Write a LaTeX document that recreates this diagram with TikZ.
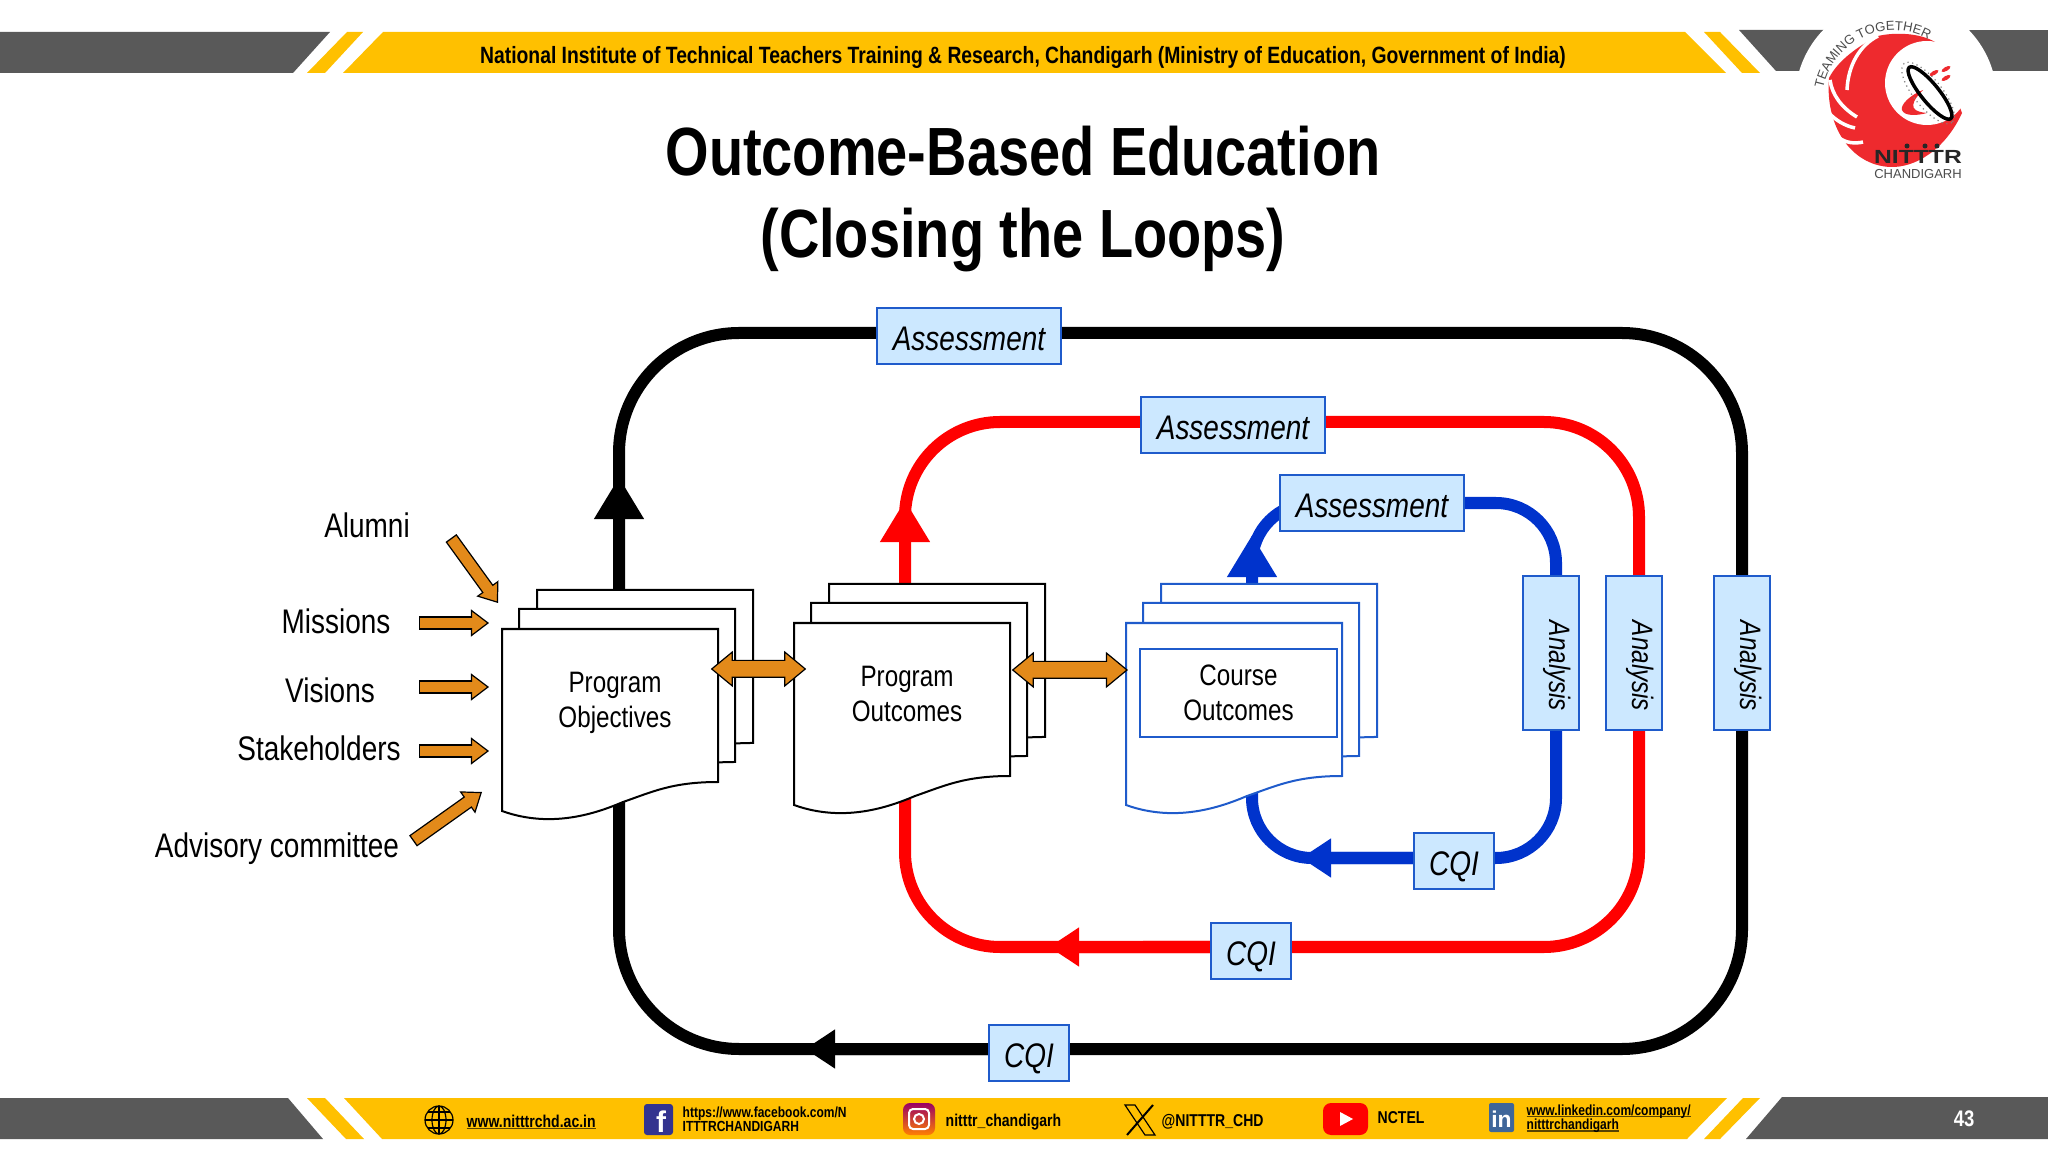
\documentclass[tikz,border=0pt]{standalone}
\usepackage{fontspec}
\setmainfont[FakeStretch=0.82]{Liberation Sans}
\newfontfamily\logofont{Liberation Sans}
\newfontfamily\logowide[FakeStretch=1.3]{Liberation Sans}
\usetikzlibrary{arrows.meta,backgrounds,decorations.text}

\definecolor{barGray}{HTML}{595959}
\definecolor{barGold}{HTML}{FFC000}
\definecolor{boxFill}{HTML}{CCE8FF}
\definecolor{boxEdge}{HTML}{1F5BCB}
\definecolor{loopBlue}{HTML}{0033CC}
\definecolor{arrowFill}{HTML}{E38A1A}
\definecolor{logoRed}{HTML}{EE2A2E}

\tikzset{
  loopline/.style={line width=0.12cm,rounded corners=#1},
  loophead/.style={line width=0.12cm,-{Triangle[length=0.42cm,width=0.47cm]}},
  loopback/.style={line width=0.12cm,-{Triangle[length=0.30cm,width=0.37cm]}},
  stepbox/.style={draw=boxEdge,fill=boxFill,line width=0.02cm,text height=0.32cm,text depth=0.04cm,font=\fontsize{9.7}{11}\selectfont\itshape,inner sep=0pt},
  assessbox/.style={stepbox,minimum width=1.83cm,minimum height=0.55cm},
  analysisbox/.style={stepbox,rotate=-90,minimum width=1.54cm,minimum height=0.56cm,text height=0.24cm,text depth=0.05cm,font=\fontsize{8.4}{10}\selectfont\itshape},
  cqibox/.style={stepbox,minimum width=0.8cm,minimum height=0.55cm},
  sheet/.style={fill=white,line width=0.02cm},
  doclabel/.style={align=center,text width=2.16cm,inner sep=0pt,font=\fontsize{8.4}{10}\selectfont},
  sidelabel/.style={inner sep=0pt,font=\fontsize{9.7}{11}\selectfont},
  bothways/.style={draw=black,line width=0.18cm,
    {Triangle[length=0.22cm,width=0.36cm,fill=arrowFill,line width=0.012cm]}-{Triangle[length=0.22cm,width=0.36cm,fill=arrowFill,line width=0.012cm]},
    postaction={draw=arrowFill,line width=0.155cm,-,shorten <=0.2cm,shorten >=0.2cm}},
  oneway/.style={draw=black,line width=0.135cm,
    -{Triangle[length=0.18cm,width=0.27cm,fill=arrowFill,line width=0.012cm]},
    postaction={draw=arrowFill,line width=0.108cm,-,shorten <=0.014cm,shorten >=0.16cm}},
  foottext/.style={anchor=west,inner sep=0pt,align=left,font=\fontsize{4.87}{4.1}\selectfont\bfseries\setlength{\lineskiplimit}{-1cm}},
  foottwo/.style={foottext,font=\fontsize{4.17}{4.1}\selectfont\bfseries\setlength{\lineskiplimit}{-1cm}},
}

% one document stack, front sheet top left at #1
\newcommand{\docstack}[2]{
  \foreach \dx/\dy in {0.35/0.39,0.17/0.20,0/0}
    \draw[sheet,#2,shift={(#1)},xshift=\dx cm,yshift=\dy cm]
      (0,0) -- (216,0) -- (216,153) .. controls (170,153) and (150,163) .. (121,173)
      .. controls (95,184) and (50,200) .. (0,182) -- cycle;
}
\newcommand{\analysistext}{\hspace*{0.26cm}\raisebox{0.08cm}{Analysis}}
% link underline, close under the letters
\newcommand{\footlink}[1]{\setbox0=\hbox{#1}\rlap{\textcolor{black!65!barGold}{\rule[-0.5pt]{\wd0}{0.4pt}}}#1}

\begin{document}
\begin{tikzpicture}[x=0.01cm,y=-0.01cm]
  \useasboundingbox (0,0) rectangle (2048,1152);
  % top band
  \fill[barGray] (0,32) -- (330,32) -- (293,73) -- (0,73) -- cycle;
  \fill[barGold] (347,32) -- (363,32) -- (325,73) -- (307,73) -- cycle;
  \fill[barGold] (383,32) -- (1685,32) -- (1726,73) -- (343,73) -- cycle;
  \fill[barGold] (1704,32) -- (1720,32) -- (1760,73) -- (1742,73) -- cycle;
  \fill[barGray] (1739,30) -- (1850,30) -- (1850,71) -- (1776,71) -- cycle;
  \fill[barGray] (1940,30) -- (2048,30) -- (2048,71) -- (1940,71) -- cycle;
  \node[font=\fontsize{6.7}{9}\selectfont\bfseries] (header) at (1023,57)
    {National Institute of Technical Teachers Training \& Research, Chandigarh (Ministry of Education, Government of India)};

  % logo
  \fill[white] (1896,100) circle (101);
  \fill[logoRed] (1962,113) .. controls (1945,150) and (1915,168) .. (1890,167)
    .. controls (1850,165) and (1825,125) .. (1829,78)
    .. controls (1838,60) and (1860,45) .. (1878,36)
    .. controls (1895,32) and (1920,33) .. (1935,42) -- cycle;
  \fill[white] (1927,83) circle (42);
  \draw[white,line width=0.035cm] (1878,36) .. controls (1860,45) and (1848,65) .. (1847,90);
  \draw[white,line width=0.035cm] (1830,80) .. controls (1832,95) and (1842,108) .. (1857,117);
  \draw[white,line width=0.035cm] (1828,112) .. controls (1835,120) and (1845,126) .. (1855,128);
  \draw[white,line width=0.035cm] (1838,137) .. controls (1845,143) and (1855,144) .. (1863,142);
  \fill[logoRed] (1923,90) .. controls (1910,95) and (1900,105) .. (1902,110)
    .. controls (1904,116) and (1916,116) .. (1927,113)
    .. controls (1915,112) and (1905,108) .. (1923,90) -- cycle;
  \draw[black!50,line width=0.012cm,densely dotted,rotate around={-51:(1928,93)}] (1928,93) circle [x radius=38,y radius=14];
  \draw[black,line width=0.035cm,rotate around={-51:(1930,93)}] (1930,93) circle [x radius=33,y radius=9];
  \fill[logoRed,rotate around={30:(1934,73)}] (1934,73) circle [x radius=5,y radius=2];
  \fill[logoRed,rotate around={30:(1946,69)}] (1946,69) circle [x radius=5,y radius=2];
  \fill[logoRed,rotate around={30:(1946,78)}] (1946,78) circle [x radius=5,y radius=2];
  \path[decorate,decoration={text along path,text align=center,
      text={|\logofont\fontsize{3.7}{4}\selectfont\color{black!70}|TEAMING TOGETHER}}]
    (1823,90) arc[start angle=-170,end angle=-60,radius=72];
  \node[font=\logowide\fontsize{5.4}{6}\selectfont\bfseries,text=black!85,inner sep=0pt] (logoname) at (1918,157) {NITTTR};
  \fill[black!85] (1907,146) circle (2.5) (1925,146) circle (2.5) (1937,146) circle (2.5);
  \node[font=\logofont\fontsize{3.7}{4}\selectfont,text=black!70,inner sep=0pt] (logoplace) at (1918,174) {CHANDIGARH};

  % title
  \node[align=center,font=\fontsize{19.4}{23.3}\selectfont\bfseries] (title) at (1023,199)
    {Outcome-Based Education\\(Closing the Loops)};

  % document stacks
  \docstack{502,629}{draw=black}
  \docstack{794,623}{draw=black}
  \docstack{1126,623}{draw=boxEdge}
  \node[doclabel] (pobj) at (615,703) {Program\\Objectives};
  \node[doclabel] (pout) at (907,694) {Program\\Outcomes};
  \node[doclabel,draw=boxEdge,line width=0.02cm,fill=white,text width=1.97cm,minimum height=0.87cm] (cout) at (1238.5,693) {Course\\Outcomes};

  % boxes on the three loops
  \node[assessbox] (asBlack) at (969,336) {Assessment};
  \node[assessbox] (asRed) at (1233,425) {Assessment};
  \node[assessbox] (asBlue) at (1372,503) {Assessment};
  \node[analysisbox] (anBlack) at (1742,653) {\analysistext};
  \node[analysisbox] (anRed) at (1634,653) {\analysistext};
  \node[analysisbox] (anBlue) at (1551,653) {\analysistext};
  \node[cqibox] (cqBlack) at (1029,1053) {CQI};
  \node[cqibox] (cqRed) at (1251,951) {CQI};
  \node[cqibox] (cqBlue) at (1454,861) {CQI};

  \coordinate (objTop) at (619,600);
  \coordinate (objBot) at (619,780);
  \coordinate (outTop) at (905,600);
  \coordinate (outBot) at (905,780);
  \coordinate (couTop) at (1252,600);
  \coordinate (couBot) at (1252,780);
  \coordinate (objTip) at (619,477);
  \coordinate (outTip) at (905,500);
  \coordinate (couTip) at (1252,535);
  \coordinate (blackTip) at (805,1049);
  \coordinate (redTip) at (1049,947);
  \coordinate (blueTip) at (1301,858);

  \begin{scope}[on background layer]
    \draw[loopline=1.2cm] (objTop) |- ([yshift=0.03cm]asBlack.center);
    \draw[loopline=1.2cm] ([yshift=0.03cm]asBlack.center) -| (anBlack.center);
    \draw[loopline=1.2cm] (anBlack.center) |- ([yshift=0.04cm]cqBlack.center);
    \draw[loopline=1.2cm] ([yshift=0.04cm]cqBlack.center) -| (objBot);
    \draw[loophead] (objTop) -- (objTip);
    \draw[loopback] ([yshift=0.04cm]cqBlack.center) -- (blackTip);

    \draw[red,loopline=0.95cm] (outTop) |- ([yshift=0.03cm]asRed.center);
    \draw[red,loopline=0.95cm] ([yshift=0.03cm]asRed.center) -| ([xshift=0.05cm]anRed.center);
    \draw[red,loopline=0.95cm] ([xshift=0.05cm]anRed.center) |- ([yshift=0.04cm]cqRed.center);
    \draw[red,loopline=0.95cm] ([yshift=0.04cm]cqRed.center) -| (outBot);
    \draw[red,loophead] (outTop) -- (outTip);
    \draw[red,loopback] ([yshift=0.04cm]cqRed.center) -- (redTip);

    \draw[loopBlue,loopline=0.6cm] (couTop) |- (asBlue.center);
    \draw[loopBlue,loopline=0.6cm] (asBlue.center) -| ([xshift=0.05cm]anBlue.center);
    \draw[loopBlue,loopline=0.6cm] ([xshift=0.05cm]anBlue.center) |- ([yshift=0.03cm]cqBlue.center);
    \draw[loopBlue,loopline=0.6cm] ([yshift=0.03cm]cqBlue.center) -| (couBot);
    \draw[loopBlue,loophead] (couTop) -- (couTip);
    \draw[loopBlue,loopback] ([yshift=0.03cm]cqBlue.center) -- (blueTip);
  \end{scope}

  % arrows between the stacks
  \draw[bothways] ([shift={(-0.13cm,0.34cm)}]pobj.east) -- ([shift={(0.08cm,0.25cm)}]pout.west);
  \draw[bothways] ([shift={(-0.04cm,0.24cm)}]pout.east) -- ([shift={(-0.11cm,0.23cm)}]cout.west);

  % inputs on the left
  \node[sidelabel] (alumni) at (367,525) {Alumni};
  \node[sidelabel] (missions) at (336,621) {Missions};
  \node[sidelabel] (visions) at (330,690) {Visions};
  \node[sidelabel] (stake) at (319,748) {Stakeholders};
  \node[sidelabel] (advisory) at (277,849) {Advisory committee};
  \coordinate (inAlumni) at (498,603);
  \coordinate (inMissions) at (489,623);
  \coordinate (inVisions) at (489,687);
  \coordinate (inStake) at (489,751);
  \coordinate (inAdvisory) at (482,792);
  \draw[oneway] (451,538) -- (inAlumni);
  \draw[oneway] (419,623) -- (inMissions);
  \draw[oneway] (419,687) -- (inVisions);
  \draw[oneway] (419,751) -- (inStake);
  \draw[oneway] (413,841) -- (inAdvisory);

  % bottom band
  \fill[barGray] (0,1098) -- (288,1098) -- (323,1139) -- (0,1139) -- cycle;
  \fill[barGold] (307,1098) -- (325,1098) -- (364,1139) -- (346,1139) -- cycle;
  \fill[barGold] (344,1098) -- (1727,1098) -- (1687,1139) -- (382,1139) -- cycle;
  \fill[barGold] (1743,1098) -- (1760,1098) -- (1720,1139) -- (1704,1139) -- cycle;
  \fill[barGray] (1782,1097) -- (2048,1097) -- (2048,1139) -- (1746,1139) -- cycle;

  % globe
  \draw[line width=0.012cm] (439,1120) circle (14);
  \draw[line width=0.012cm] (439,1120) circle [x radius=7,y radius=14];
  \draw[line width=0.012cm] (439,1106) -- (439,1134);
  \draw[line width=0.012cm] (425,1120) -- (453,1120);
  \draw[line width=0.012cm] (428,1112) -- (450,1112);
  \draw[line width=0.012cm] (428,1128) -- (450,1128);
  \node[foottext] (site) at (466,1122) {\footlink{www.nitttrchd.ac.in}};
  % facebook
  \fill[blue!45!black!80!white,rounded corners=0.03cm] (644,1104) rectangle (673,1135);
  \node[text=white,inner sep=0pt,font=\logofont\fontsize{8.5}{9}\selectfont\bfseries] (fbmark) at (661,1122) {f};
  \node[foottwo] (fbtext) at (682,1119) {https://www.facebook.com/N\\ITTTRCHANDIGARH};
  % instagram
  \shade[top color=purple!80!blue,bottom color=orange,rounded corners=0.07cm] (903,1103) rectangle (935,1135);
  \draw[white,line width=0.02cm,rounded corners=0.04cm] (909,1109) rectangle (929,1129);
  \draw[white,line width=0.02cm] (919,1119) circle (5);
  \node[foottext] (insta) at (945,1122) {nitttr\_chandigarh};
  % x
  \draw[line width=0.012cm] (1125,1105) -- (1135,1105) -- (1155,1135) -- (1145,1135) -- cycle;
  \draw[line width=0.02cm] (1153,1105) -- (1127,1135);
  \node[foottext] (xtext) at (1161,1122) {@NITTTR\_CHD};
  % youtube
  \fill[red,rounded corners=0.08cm] (1323,1103) rectangle (1368,1135);
  \fill[white] (1340,1112) -- (1353,1119) -- (1340,1126) -- cycle;
  \node[foottext] (yttext) at (1377,1118) {NCTEL};
  % linkedin
  \fill[cyan!50!blue!70!black,rounded corners=0.02cm] (1489,1103) rectangle (1514,1132);
  \node[text=white,inner sep=0pt,font=\logofont\fontsize{6.5}{7}\selectfont\bfseries] (inmark) at (1501.5,1119) {in};
  \node[foottwo] (lntext) at (1526,1119) {\footlink{www.linkedin.com/company/}\\\footlink{nitttrchandigarh}};
  \node[text=white,inner sep=0pt,font=\fontsize{6.4}{8}\selectfont\bfseries] (pagenum) at (1964,1119) {43};
\end{tikzpicture}
\end{document}
